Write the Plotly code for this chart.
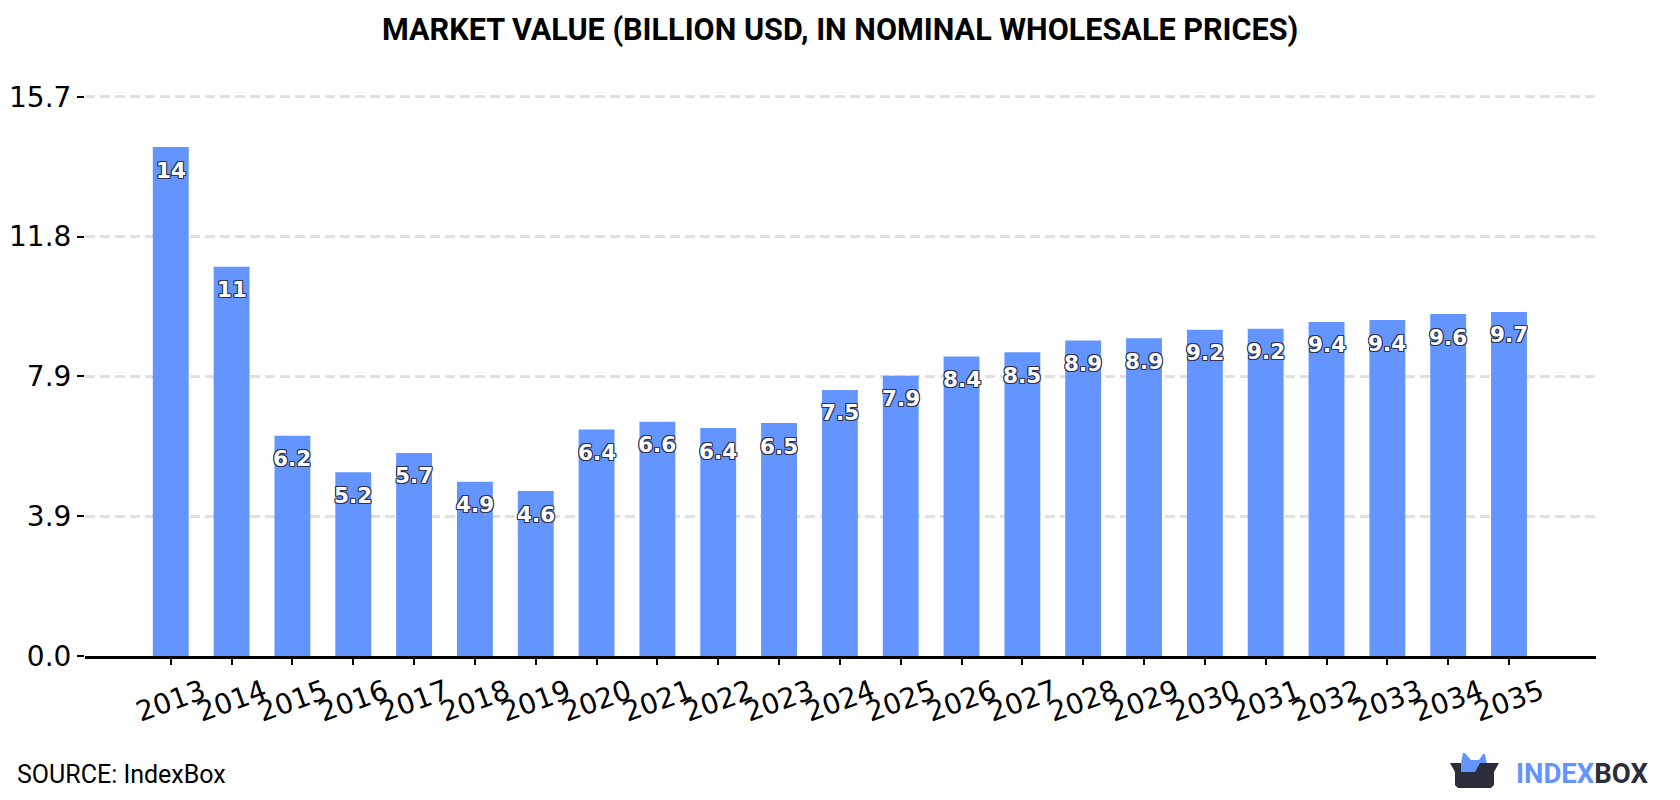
import plotly.graph_objects as go

years = [str(y) for y in range(2013, 2036)]
market_value = [14.29, 10.93, 6.18, 5.16, 5.70, 4.89, 4.63, 6.36, 6.58, 6.40, 6.54,
                7.47, 7.87, 8.41, 8.53, 8.86, 8.92, 9.16, 9.19, 9.38, 9.43, 9.60, 9.66]
y_ticks = [0, 3.925, 7.85, 11.775, 15.7]
y_tick_labels = ["0.0", "3.9", "7.9", "11.8", "15.7"]

W, H = 1680, 800
L, R, T, B = 85, 84, 94.7, 144
BAR_BLUE = "#6495ff"
DARK = "#2b2d3a"


def px_x(v):
    return (v - L) / (W - L - R)


def px_y(v):
    return 1 - (v - T) / (H - T - B)


def path(points):
    return "M " + " L ".join(f"{px_x(x):.5f},{px_y(y):.5f}" for x, y in points) + " Z"


fig = go.Figure(go.Bar(x=years, y=market_value, marker=dict(color=BAR_BLUE, line_width=0),
                       width=0.59, showlegend=False, hoverinfo="x+y"))

# Value labels sit a fixed distance under each bar top; x is the category index
outline = ",".join(f"{dx}px {dy}px 0.5px #2f3450" for dx, dy in
                   [(-1, 0), (1, 0), (0, -1), (0, 1), (-1, -1), (1, 1), (-1, 1), (1, -1)])
for index, value in enumerate(market_value):
    fig.add_annotation(x=index, y=value, xref="x", yref="y", yshift=-23, text=f"{value:.2g}",
                       showarrow=False, yanchor="middle", xanchor="center",
                       font=dict(family="DejaVu Sans", size=21.5, color="white", weight="bold",
                                 shadow=outline))

fig.add_annotation(xref="paper", yref="paper", x=px_x(840), y=px_y(30), showarrow=False,
                   yanchor="middle", xanchor="center",
                   text="<b>MARKET VALUE (BILLION USD, IN NOMINAL WHOLESALE PRICES)</b>",
                   font=dict(family="Roboto", size=30.6, color="black"))
fig.add_annotation(xref="paper", yref="paper", x=px_x(15), y=px_y(775), xanchor="left",
                   yanchor="middle", showarrow=False, text="SOURCE: IndexBox",
                   font=dict(family="Roboto", size=25, color="black"))
fig.add_annotation(xref="paper", yref="paper", x=px_x(1514), y=px_y(774), xanchor="left",
                   yanchor="middle", showarrow=False,
                   text=f'<b><span style="color:{BAR_BLUE}">INDEX</span>'
                        f'<span style="color:{DARK}">BOX</span></b>',
                   font=dict(family="Roboto", size=27.5))

# Logo: blue lid flaps behind a dark open box
fig.add_shape(type="path", xref="paper", yref="paper", line_width=0, fillcolor=BAR_BLUE,
              path=path([(1461, 763), (1463, 753), (1465, 753), (1471, 760), (1479, 760),
                         (1483, 754), (1485, 754), (1487, 764), (1480, 773), (1461, 773)]))
fig.add_shape(type="path", xref="paper", yref="paper", line_width=0, fillcolor=DARK,
              path=path([(1450, 763), (1461, 763), (1461, 772), (1475, 772), (1480, 763),
                         (1499, 763), (1494, 772), (1494, 785), (1491, 788), (1458, 788),
                         (1455, 785), (1455, 772)]))

fig.update_layout(
    width=W, height=H, margin=dict(l=L, r=R, t=T, b=B, autoexpand=False),
    paper_bgcolor="white", plot_bgcolor="white",
    xaxis=dict(type="category", range=[-1.41, 23.43], tickangle=-20, ticks="outside",
               ticklen=6, tickwidth=2, tickcolor="black", showline=True, linecolor="black",
               linewidth=3, showgrid=False, zeroline=False, ticklabelshift=32,
               ticklabelstandoff=0, automargin=False,
               tickfont=dict(family="DejaVu Sans", size=28, color="black")),
    yaxis=dict(range=[0, 15.75], tickvals=y_ticks, ticktext=y_tick_labels, ticks="outside",
               ticklen=7, tickwidth=2, tickcolor="black", showline=False, zeroline=False,
               showgrid=True, gridcolor="#e0e0e0", gridwidth=3, griddash="10px,5px",
               automargin=False,
               tickfont=dict(family="DejaVu Sans", size=28, color="black")),
)

fig.write_html("out.html")
